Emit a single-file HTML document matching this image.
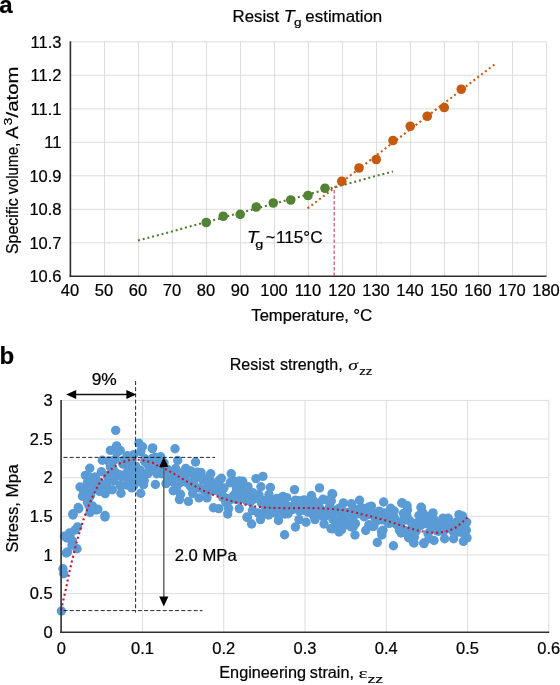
<!DOCTYPE html>
<html lang="en"><head><meta charset="utf-8"><title>Resist Tg estimation and resist strength</title>
<style>html,body{margin:0;padding:0;background:#fff}body{width:560px;height:685px;overflow:hidden}svg{display:block}text{font-family:"Liberation Sans",Arial,Helvetica,sans-serif;font-size:16.5px;fill:#000;stroke:#000;stroke-width:.22px}.g{stroke:#d4d4d4;stroke-width:.8;fill:none}.ax{stroke:#2e2e2e;stroke-width:1.6;fill:none}.lbl{font-weight:bold;font-size:24px;fill:#000}.sub{font-size:11px}.dash{stroke:#111;stroke-width:.9;stroke-dasharray:4 2.2;fill:none}.ser{font-family:"Liberation Serif","DejaVu Serif",serif;stroke-width:.1px}</style></head><body>
<svg width="560" height="685" viewBox="0 0 560 685">
<rect width="560" height="685" fill="#fff"/>
<g id="chart-a">
<line class="g" x1="104.50" y1="41.8" x2="104.50" y2="276.3"/>
<line class="g" x1="138.50" y1="41.8" x2="138.50" y2="276.3"/>
<line class="g" x1="172.50" y1="41.8" x2="172.50" y2="276.3"/>
<line class="g" x1="206.50" y1="41.8" x2="206.50" y2="276.3"/>
<line class="g" x1="240.50" y1="41.8" x2="240.50" y2="276.3"/>
<line class="g" x1="274.50" y1="41.8" x2="274.50" y2="276.3"/>
<line class="g" x1="308.50" y1="41.8" x2="308.50" y2="276.3"/>
<line class="g" x1="342.50" y1="41.8" x2="342.50" y2="276.3"/>
<line class="g" x1="376.50" y1="41.8" x2="376.50" y2="276.3"/>
<line class="g" x1="410.50" y1="41.8" x2="410.50" y2="276.3"/>
<line class="g" x1="444.50" y1="41.8" x2="444.50" y2="276.3"/>
<line class="g" x1="478.50" y1="41.8" x2="478.50" y2="276.3"/>
<line class="g" x1="512.50" y1="41.8" x2="512.50" y2="276.3"/>
<line class="g" x1="546.50" y1="41.8" x2="546.50" y2="276.3"/>
<line class="g" x1="70.0" y1="242.80" x2="546.0" y2="242.80"/>
<line class="g" x1="70.0" y1="209.30" x2="546.0" y2="209.30"/>
<line class="g" x1="70.0" y1="175.80" x2="546.0" y2="175.80"/>
<line class="g" x1="70.0" y1="142.30" x2="546.0" y2="142.30"/>
<line class="g" x1="70.0" y1="108.80" x2="546.0" y2="108.80"/>
<line class="g" x1="70.0" y1="75.30" x2="546.0" y2="75.30"/>
<line class="g" x1="70.0" y1="41.80" x2="546.0" y2="41.80"/>
<line x1="138" y1="240.6" x2="393" y2="171.4" stroke="#4f7d30" stroke-width="2.1" stroke-dasharray="2 2.87"/>
<line x1="307.6" y1="208.4" x2="494.6" y2="64.4" stroke="#c55a11" stroke-width="2.1" stroke-dasharray="2 2.87"/>
<line x1="334.2" y1="190" x2="334.2" y2="275.5" stroke="#c8506c" stroke-width="1.2" stroke-dasharray="3.5 2"/>
<line class="ax" x1="70.4" y1="41.3" x2="70.4" y2="277.1"/>
<line class="ax" x1="69.6" y1="276.3" x2="546.5" y2="276.3"/>
<circle cx="206.25" cy="222.5" r="4.8" fill="#548235"/>
<circle cx="223.25" cy="216.25" r="4.8" fill="#548235"/>
<circle cx="240.2" cy="214.4" r="4.8" fill="#548235"/>
<circle cx="256.25" cy="207" r="4.8" fill="#548235"/>
<circle cx="273.25" cy="203" r="4.8" fill="#548235"/>
<circle cx="290.75" cy="200" r="4.8" fill="#548235"/>
<circle cx="308" cy="195.5" r="4.8" fill="#548235"/>
<circle cx="325" cy="188.25" r="4.8" fill="#548235"/>
<circle cx="341.75" cy="181.25" r="4.8" fill="#c55a11"/>
<circle cx="359" cy="168" r="4.8" fill="#c55a11"/>
<circle cx="376.25" cy="159.5" r="4.8" fill="#c55a11"/>
<circle cx="393" cy="140.5" r="4.8" fill="#c55a11"/>
<circle cx="410.25" cy="126.25" r="4.8" fill="#c55a11"/>
<circle cx="427.25" cy="116.25" r="4.8" fill="#c55a11"/>
<circle cx="444.25" cy="107.5" r="4.8" fill="#c55a11"/>
<circle cx="461.25" cy="89.25" r="4.8" fill="#c55a11"/>
<text x="61.5" y="282.00" text-anchor="end">10.6</text>
<text x="61.5" y="248.50" text-anchor="end">10.7</text>
<text x="61.5" y="215.00" text-anchor="end">10.8</text>
<text x="61.5" y="181.50" text-anchor="end">10.9</text>
<text x="61.5" y="148.00" text-anchor="end">11</text>
<text x="61.5" y="114.50" text-anchor="end">11.1</text>
<text x="61.5" y="81.00" text-anchor="end">11.2</text>
<text x="61.5" y="47.50" text-anchor="end">11.3</text>
<text x="70.00" y="296" text-anchor="middle">40</text>
<text x="104.00" y="296" text-anchor="middle">50</text>
<text x="138.00" y="296" text-anchor="middle">60</text>
<text x="172.00" y="296" text-anchor="middle">70</text>
<text x="206.00" y="296" text-anchor="middle">80</text>
<text x="240.00" y="296" text-anchor="middle">90</text>
<text x="274.00" y="296" text-anchor="middle">100</text>
<text x="308.00" y="296" text-anchor="middle">110</text>
<text x="342.00" y="296" text-anchor="middle">120</text>
<text x="376.00" y="296" text-anchor="middle">130</text>
<text x="410.00" y="296" text-anchor="middle">140</text>
<text x="444.00" y="296" text-anchor="middle">150</text>
<text x="478.00" y="296" text-anchor="middle">160</text>
<text x="512.00" y="296" text-anchor="middle">170</text>
<text x="546.00" y="296" text-anchor="middle">180</text>
<text x="251.38" y="320.60" textLength="97.60" lengthAdjust="spacingAndGlyphs">Temperature,</text>
<text x="353.18" y="320.60" textLength="19.05" lengthAdjust="spacingAndGlyphs">°C</text>
<g transform="translate(17.6,253.3) rotate(-90)">
<text x="-0.72" y="0.00" textLength="55.70" lengthAdjust="spacingAndGlyphs">Specific</text>
<text x="58.96" y="0.00" textLength="51.59" lengthAdjust="spacingAndGlyphs">volume,</text>
<text x="114.45" y="0.00" textLength="12.28" lengthAdjust="spacingAndGlyphs">A</text>
<text x="127.99" y="-5.80" textLength="7.49" lengthAdjust="spacingAndGlyphs" style="font-size:10px">3</text>
<text x="135.80" y="0.00" textLength="50.95" lengthAdjust="spacingAndGlyphs">/atom</text>
</g>
<text x="232.62" y="21.60" textLength="46.52" lengthAdjust="spacingAndGlyphs">Resist</text>
<text x="283.89" y="21.60" textLength="10.95" lengthAdjust="spacingAndGlyphs" font-style="italic">T</text>
<text x="294.02" y="26.20" textLength="7.54" lengthAdjust="spacingAndGlyphs" style="font-size:11px">g</text>
<text x="305.38" y="21.60" textLength="76.88" lengthAdjust="spacingAndGlyphs">estimation</text>
<text x="247.12" y="242.70" textLength="11.37" lengthAdjust="spacingAndGlyphs" font-style="italic">T</text>
<text x="255.39" y="247.90" textLength="8.03" lengthAdjust="spacingAndGlyphs" style="font-size:11.5px">g</text>
<text x="265.76" y="242.70" textLength="9.56" lengthAdjust="spacingAndGlyphs">~</text>
<text x="276.01" y="242.70" textLength="46.61" lengthAdjust="spacingAndGlyphs">115°C</text>
<text class="lbl" x="-0.8" y="13.1">a</text>
</g>
<g id="chart-b">
<line class="g" x1="142.50" y1="400.4" x2="142.50" y2="632.3"/>
<line class="g" x1="223.75" y1="400.4" x2="223.75" y2="632.3"/>
<line class="g" x1="305.00" y1="400.4" x2="305.00" y2="632.3"/>
<line class="g" x1="386.25" y1="400.4" x2="386.25" y2="632.3"/>
<line class="g" x1="467.50" y1="400.4" x2="467.50" y2="632.3"/>
<line class="g" x1="548.75" y1="400.4" x2="548.75" y2="632.3"/>
<line class="g" x1="61.25" y1="593.65" x2="548.75" y2="593.65"/>
<line class="g" x1="61.25" y1="555.00" x2="548.75" y2="555.00"/>
<line class="g" x1="61.25" y1="516.35" x2="548.75" y2="516.35"/>
<line class="g" x1="61.25" y1="477.70" x2="548.75" y2="477.70"/>
<line class="g" x1="61.25" y1="439.05" x2="548.75" y2="439.05"/>
<line class="g" x1="61.25" y1="400.40" x2="548.75" y2="400.40"/>
<g fill="#5b9bd5">
<circle cx="61.4" cy="611" r="4.7"/>
<circle cx="63" cy="568.75" r="4.7"/>
<circle cx="63.75" cy="573.75" r="4.7"/>
<circle cx="64.5" cy="536.25" r="4.7"/>
<circle cx="66.25" cy="553" r="4.7"/>
<circle cx="67" cy="538" r="4.7"/>
<circle cx="67.5" cy="552" r="4.7"/>
<circle cx="69.5" cy="533" r="4.7"/>
<circle cx="70" cy="535" r="4.7"/>
<circle cx="72" cy="545" r="4.7"/>
<circle cx="72.5" cy="541" r="4.7"/>
<circle cx="72.9" cy="513.75" r="4.7"/>
<circle cx="73" cy="515" r="4.7"/>
<circle cx="75" cy="530" r="4.7"/>
<circle cx="77" cy="548.75" r="4.7"/>
<circle cx="77.5" cy="527" r="4.7"/>
<circle cx="78.2" cy="507.5" r="4.7"/>
<circle cx="78.75" cy="508.75" r="4.7"/>
<circle cx="80" cy="487" r="4.7"/>
<circle cx="82.4" cy="496.2" r="4.7"/>
<circle cx="83.2" cy="488.4" r="4.7"/>
<circle cx="83.6" cy="491.4" r="4.7"/>
<circle cx="84.8" cy="490.0" r="4.7"/>
<circle cx="85.4" cy="475.4" r="4.7"/>
<circle cx="85.4" cy="489.1" r="4.7"/>
<circle cx="87.3" cy="482.9" r="4.7"/>
<circle cx="87.5" cy="502.5" r="4.7"/>
<circle cx="88" cy="484.3" r="4.7"/>
<circle cx="88.2" cy="488.2" r="4.7"/>
<circle cx="89" cy="505.7" r="4.7"/>
<circle cx="89.7" cy="497.0" r="4.7"/>
<circle cx="89.8" cy="468.2" r="4.7"/>
<circle cx="90.0" cy="477.1" r="4.7"/>
<circle cx="90" cy="512.5" r="4.7"/>
<circle cx="90.7" cy="495" r="4.7"/>
<circle cx="91.2" cy="483.9" r="4.7"/>
<circle cx="92.5" cy="506" r="4.7"/>
<circle cx="92.6" cy="488.4" r="4.7"/>
<circle cx="93.1" cy="478.1" r="4.7"/>
<circle cx="94.9" cy="480.7" r="4.7"/>
<circle cx="95.2" cy="477" r="4.7"/>
<circle cx="95.9" cy="479.9" r="4.7"/>
<circle cx="96.25" cy="510" r="4.7"/>
<circle cx="97.2" cy="483.1" r="4.7"/>
<circle cx="97.9" cy="509.3" r="4.7"/>
<circle cx="98.0" cy="486.4" r="4.7"/>
<circle cx="99.6" cy="482.3" r="4.7"/>
<circle cx="99.6" cy="491.4" r="4.7"/>
<circle cx="100.5" cy="484.4" r="4.7"/>
<circle cx="100.8" cy="490.6" r="4.7"/>
<circle cx="101.4" cy="471.8" r="4.7"/>
<circle cx="102.3" cy="460.2" r="4.7"/>
<circle cx="102.8" cy="490.4" r="4.7"/>
<circle cx="103.6" cy="488.2" r="4.7"/>
<circle cx="105" cy="515.5" r="4.7"/>
<circle cx="105" cy="517" r="4.7"/>
<circle cx="105.1" cy="487.8" r="4.7"/>
<circle cx="105.2" cy="493.6" r="4.7"/>
<circle cx="106.8" cy="484.3" r="4.7"/>
<circle cx="107.1" cy="475.4" r="4.7"/>
<circle cx="108.1" cy="477.7" r="4.7"/>
<circle cx="108.6" cy="460.9" r="4.7"/>
<circle cx="110.4" cy="450.4" r="4.7"/>
<circle cx="110.4" cy="467.0" r="4.7"/>
<circle cx="111.1" cy="467.1" r="4.7"/>
<circle cx="112" cy="463" r="4.7"/>
<circle cx="112.3" cy="489.8" r="4.7"/>
<circle cx="113.1" cy="469.2" r="4.7"/>
<circle cx="114" cy="480.7" r="4.7"/>
<circle cx="114.9" cy="459.6" r="4.7"/>
<circle cx="115.3" cy="472.5" r="4.7"/>
<circle cx="115.7" cy="430.4" r="4.7"/>
<circle cx="116.6" cy="445.9" r="4.7"/>
<circle cx="116.8" cy="452.8" r="4.7"/>
<circle cx="117.7" cy="475.0" r="4.7"/>
<circle cx="119.4" cy="474.7" r="4.7"/>
<circle cx="120.2" cy="450.4" r="4.7"/>
<circle cx="120.2" cy="485.8" r="4.7"/>
<circle cx="121" cy="486" r="4.7"/>
<circle cx="121" cy="493.2" r="4.7"/>
<circle cx="121.4" cy="475.5" r="4.7"/>
<circle cx="122.1" cy="477.0" r="4.7"/>
<circle cx="122.8" cy="464.0" r="4.7"/>
<circle cx="124.0" cy="460.1" r="4.7"/>
<circle cx="125.0" cy="462.3" r="4.7"/>
<circle cx="126.4" cy="473.6" r="4.7"/>
<circle cx="126.5" cy="485.0" r="4.7"/>
<circle cx="127.3" cy="455.7" r="4.7"/>
<circle cx="127.8" cy="467.4" r="4.7"/>
<circle cx="128.6" cy="463.1" r="4.7"/>
<circle cx="130" cy="480.7" r="4.7"/>
<circle cx="130.3" cy="472.5" r="4.7"/>
<circle cx="130.6" cy="468.3" r="4.7"/>
<circle cx="131.8" cy="487.9" r="4.7"/>
<circle cx="131.9" cy="459.5" r="4.7"/>
<circle cx="133.6" cy="454.8" r="4.7"/>
<circle cx="133.7" cy="466.5" r="4.7"/>
<circle cx="133.8" cy="485.8" r="4.7"/>
<circle cx="135.6" cy="466.1" r="4.7"/>
<circle cx="136.2" cy="476.1" r="4.7"/>
<circle cx="137.4" cy="481.5" r="4.7"/>
<circle cx="138.9" cy="443.2" r="4.7"/>
<circle cx="139.3" cy="481.3" r="4.7"/>
<circle cx="140.1" cy="470.1" r="4.7"/>
<circle cx="140.7" cy="493.2" r="4.7"/>
<circle cx="140.8" cy="451.6" r="4.7"/>
<circle cx="141.8" cy="476.6" r="4.7"/>
<circle cx="142.5" cy="446.8" r="4.7"/>
<circle cx="143.6" cy="484.6" r="4.7"/>
<circle cx="144.3" cy="480.7" r="4.7"/>
<circle cx="144.8" cy="461.8" r="4.7"/>
<circle cx="145.0" cy="458.8" r="4.7"/>
<circle cx="146.6" cy="473.8" r="4.7"/>
<circle cx="147.7" cy="464.4" r="4.7"/>
<circle cx="147.9" cy="473.6" r="4.7"/>
<circle cx="149.1" cy="471.6" r="4.7"/>
<circle cx="149.4" cy="470.1" r="4.7"/>
<circle cx="151.4" cy="465.1" r="4.7"/>
<circle cx="152.3" cy="448.6" r="4.7"/>
<circle cx="152.4" cy="458.4" r="4.7"/>
<circle cx="152.7" cy="447.9" r="4.7"/>
<circle cx="152.7" cy="467.2" r="4.7"/>
<circle cx="154.5" cy="468.1" r="4.7"/>
<circle cx="155.3" cy="457.3" r="4.7"/>
<circle cx="155.4" cy="484.5" r="4.7"/>
<circle cx="156.9" cy="473.8" r="4.7"/>
<circle cx="157.4" cy="469.5" r="4.7"/>
<circle cx="158.3" cy="464.4" r="4.7"/>
<circle cx="159.7" cy="468.7" r="4.7"/>
<circle cx="160.3" cy="468.8" r="4.7"/>
<circle cx="160.7" cy="456.8" r="4.7"/>
<circle cx="161.9" cy="473.8" r="4.7"/>
<circle cx="163.0" cy="467.1" r="4.7"/>
<circle cx="164.0" cy="462.8" r="4.7"/>
<circle cx="165.5" cy="470.8" r="4.7"/>
<circle cx="166" cy="483.6" r="4.7"/>
<circle cx="166.5" cy="470.4" r="4.7"/>
<circle cx="167.4" cy="469.3" r="4.7"/>
<circle cx="168.2" cy="477.6" r="4.7"/>
<circle cx="169.6" cy="480.0" r="4.7"/>
<circle cx="170.6" cy="474.4" r="4.7"/>
<circle cx="172.0" cy="475.7" r="4.7"/>
<circle cx="172.8" cy="481.8" r="4.7"/>
<circle cx="173.2" cy="490.7" r="4.7"/>
<circle cx="174.5" cy="478.0" r="4.7"/>
<circle cx="175" cy="448.75" r="4.7"/>
<circle cx="175.6" cy="468.5" r="4.7"/>
<circle cx="176.1" cy="471.4" r="4.7"/>
<circle cx="176.8" cy="486.8" r="4.7"/>
<circle cx="177.7" cy="460.4" r="4.7"/>
<circle cx="178.0" cy="476.5" r="4.7"/>
<circle cx="179.5" cy="499.6" r="4.7"/>
<circle cx="179.9" cy="482.7" r="4.7"/>
<circle cx="180.5" cy="494.3" r="4.7"/>
<circle cx="182.0" cy="478.8" r="4.7"/>
<circle cx="182.8" cy="472.2" r="4.7"/>
<circle cx="183.7" cy="474.9" r="4.7"/>
<circle cx="184.9" cy="476.4" r="4.7"/>
<circle cx="185.7" cy="468.4" r="4.7"/>
<circle cx="186.2" cy="482.2" r="4.7"/>
<circle cx="187.5" cy="472.5" r="4.7"/>
<circle cx="187.8" cy="473.0" r="4.7"/>
<circle cx="188.4" cy="501.4" r="4.7"/>
<circle cx="189.3" cy="482.9" r="4.7"/>
<circle cx="190.1" cy="485.5" r="4.7"/>
<circle cx="191" cy="471" r="4.7"/>
<circle cx="191.1" cy="486.9" r="4.7"/>
<circle cx="192.6" cy="493.5" r="4.7"/>
<circle cx="193.9" cy="480.6" r="4.7"/>
<circle cx="194.4" cy="478.6" r="4.7"/>
<circle cx="195.5" cy="462" r="4.7"/>
<circle cx="196.1" cy="473.8" r="4.7"/>
<circle cx="197.1" cy="472.2" r="4.7"/>
<circle cx="197.8" cy="474.8" r="4.7"/>
<circle cx="199" cy="497.9" r="4.7"/>
<circle cx="199.1" cy="488.0" r="4.7"/>
<circle cx="200.2" cy="477.3" r="4.7"/>
<circle cx="201.0" cy="472.4" r="4.7"/>
<circle cx="202.9" cy="480.1" r="4.7"/>
<circle cx="204.2" cy="490.0" r="4.7"/>
<circle cx="204.7" cy="490.4" r="4.7"/>
<circle cx="205.8" cy="490.5" r="4.7"/>
<circle cx="206.8" cy="487.8" r="4.7"/>
<circle cx="207" cy="497.9" r="4.7"/>
<circle cx="208.0" cy="477.9" r="4.7"/>
<circle cx="208.8" cy="491.4" r="4.7"/>
<circle cx="210.0" cy="480.0" r="4.7"/>
<circle cx="210.7" cy="473.75" r="4.7"/>
<circle cx="211.8" cy="489.3" r="4.7"/>
<circle cx="212.2" cy="489.3" r="4.7"/>
<circle cx="213.2" cy="485.2" r="4.7"/>
<circle cx="213.4" cy="507.7" r="4.7"/>
<circle cx="215.2" cy="488.4" r="4.7"/>
<circle cx="216.3" cy="487.6" r="4.7"/>
<circle cx="216.4" cy="490.4" r="4.7"/>
<circle cx="218.0" cy="491.3" r="4.7"/>
<circle cx="218.6" cy="481.2" r="4.7"/>
<circle cx="218.75" cy="508.6" r="4.7"/>
<circle cx="220.1" cy="479.6" r="4.7"/>
<circle cx="221.1" cy="494.0" r="4.7"/>
<circle cx="221.4" cy="478.2" r="4.7"/>
<circle cx="222.5" cy="497.1" r="4.7"/>
<circle cx="223" cy="496" r="4.7"/>
<circle cx="224.0" cy="487.9" r="4.7"/>
<circle cx="225.2" cy="499.2" r="4.7"/>
<circle cx="225.9" cy="502.7" r="4.7"/>
<circle cx="227.3" cy="501.5" r="4.7"/>
<circle cx="227.5" cy="498.6" r="4.7"/>
<circle cx="227.7" cy="514" r="4.7"/>
<circle cx="228.6" cy="508.6" r="4.7"/>
<circle cx="229.4" cy="500.4" r="4.7"/>
<circle cx="230.3" cy="482.7" r="4.7"/>
<circle cx="230.8" cy="482.0" r="4.7"/>
<circle cx="231.25" cy="473.75" r="4.7"/>
<circle cx="232.7" cy="496.8" r="4.7"/>
<circle cx="233.6" cy="480.6" r="4.7"/>
<circle cx="234.9" cy="494.1" r="4.7"/>
<circle cx="235.8" cy="499.4" r="4.7"/>
<circle cx="236.5" cy="488.4" r="4.7"/>
<circle cx="238.1" cy="499.2" r="4.7"/>
<circle cx="239.3" cy="481" r="4.7"/>
<circle cx="239.3" cy="508.6" r="4.7"/>
<circle cx="239.5" cy="492.0" r="4.7"/>
<circle cx="240.0" cy="498.9" r="4.7"/>
<circle cx="241.3" cy="488.2" r="4.7"/>
<circle cx="242.0" cy="494.9" r="4.7"/>
<circle cx="242.7" cy="481.25" r="4.7"/>
<circle cx="242.8" cy="491.8" r="4.7"/>
<circle cx="244.7" cy="497.2" r="4.7"/>
<circle cx="245.6" cy="497.1" r="4.7"/>
<circle cx="246.2" cy="500.4" r="4.7"/>
<circle cx="247" cy="517" r="4.7"/>
<circle cx="247.3" cy="517.5" r="4.7"/>
<circle cx="248" cy="486.6" r="4.7"/>
<circle cx="248.2" cy="498.0" r="4.7"/>
<circle cx="249.2" cy="495.5" r="4.7"/>
<circle cx="249.6" cy="496.7" r="4.7"/>
<circle cx="250.7" cy="501.7" r="4.7"/>
<circle cx="251.6" cy="524" r="4.7"/>
<circle cx="252.5" cy="510.6" r="4.7"/>
<circle cx="253.0" cy="492.8" r="4.7"/>
<circle cx="253.8" cy="499.0" r="4.7"/>
<circle cx="255.3" cy="495.2" r="4.7"/>
<circle cx="256" cy="478.6" r="4.7"/>
<circle cx="256.4" cy="496.1" r="4.7"/>
<circle cx="258.1" cy="513.0" r="4.7"/>
<circle cx="259.0" cy="494.8" r="4.7"/>
<circle cx="259.8" cy="499.1" r="4.7"/>
<circle cx="260.5" cy="519.6" r="4.7"/>
<circle cx="260.9" cy="486.8" r="4.7"/>
<circle cx="261.6" cy="503.3" r="4.7"/>
<circle cx="262.9" cy="476.4" r="4.7"/>
<circle cx="262.9" cy="500.5" r="4.7"/>
<circle cx="263.9" cy="513.3" r="4.7"/>
<circle cx="265.8" cy="508.8" r="4.7"/>
<circle cx="267.0" cy="500.1" r="4.7"/>
<circle cx="267.8" cy="509.0" r="4.7"/>
<circle cx="268.6" cy="515" r="4.7"/>
<circle cx="268.9" cy="494.6" r="4.7"/>
<circle cx="270.3" cy="504.2" r="4.7"/>
<circle cx="270.4" cy="487.5" r="4.7"/>
<circle cx="270.7" cy="509.4" r="4.7"/>
<circle cx="272.5" cy="507.9" r="4.7"/>
<circle cx="272.9" cy="500.7" r="4.7"/>
<circle cx="273.8" cy="512.7" r="4.7"/>
<circle cx="275.3" cy="512.7" r="4.7"/>
<circle cx="276.9" cy="498.5" r="4.7"/>
<circle cx="277.2" cy="502.3" r="4.7"/>
<circle cx="278.2" cy="500.8" r="4.7"/>
<circle cx="278.4" cy="520.5" r="4.7"/>
<circle cx="279.8" cy="506.9" r="4.7"/>
<circle cx="280.7" cy="502.9" r="4.7"/>
<circle cx="281.4" cy="514.1" r="4.7"/>
<circle cx="282.6" cy="510.1" r="4.7"/>
<circle cx="282.9" cy="496.4" r="4.7"/>
<circle cx="283.8" cy="501.2" r="4.7"/>
<circle cx="284.6" cy="534.8" r="4.7"/>
<circle cx="285.1" cy="514.0" r="4.7"/>
<circle cx="286.7" cy="497.6" r="4.7"/>
<circle cx="287.6" cy="506.6" r="4.7"/>
<circle cx="288.0" cy="513.7" r="4.7"/>
<circle cx="290.0" cy="508.2" r="4.7"/>
<circle cx="290.3" cy="506.7" r="4.7"/>
<circle cx="292.0" cy="509.7" r="4.7"/>
<circle cx="293.2" cy="507.4" r="4.7"/>
<circle cx="293.5" cy="507.9" r="4.7"/>
<circle cx="294.5" cy="489.6" r="4.7"/>
<circle cx="295.3" cy="500.2" r="4.7"/>
<circle cx="295.4" cy="527" r="4.7"/>
<circle cx="296.0" cy="505.0" r="4.7"/>
<circle cx="296.9" cy="506.4" r="4.7"/>
<circle cx="298.1" cy="500.6" r="4.7"/>
<circle cx="299" cy="519.6" r="4.7"/>
<circle cx="299.5" cy="511.3" r="4.7"/>
<circle cx="300.6" cy="502.1" r="4.7"/>
<circle cx="302.2" cy="500.7" r="4.7"/>
<circle cx="302.8" cy="503.9" r="4.7"/>
<circle cx="304.1" cy="500.0" r="4.7"/>
<circle cx="304.9" cy="510.4" r="4.7"/>
<circle cx="305.8" cy="509.3" r="4.7"/>
<circle cx="306" cy="522.3" r="4.7"/>
<circle cx="306.9" cy="508.3" r="4.7"/>
<circle cx="308.0" cy="512.1" r="4.7"/>
<circle cx="309.2" cy="504.0" r="4.7"/>
<circle cx="310.2" cy="510.4" r="4.7"/>
<circle cx="311.4" cy="495.5" r="4.7"/>
<circle cx="312.1" cy="505.1" r="4.7"/>
<circle cx="312.4" cy="499.2" r="4.7"/>
<circle cx="313.4" cy="515.3" r="4.7"/>
<circle cx="315" cy="519.6" r="4.7"/>
<circle cx="315.4" cy="516.8" r="4.7"/>
<circle cx="315.9" cy="516.3" r="4.7"/>
<circle cx="317.4" cy="510.8" r="4.7"/>
<circle cx="318.1" cy="503.9" r="4.7"/>
<circle cx="319.0" cy="502.9" r="4.7"/>
<circle cx="319.5" cy="487.9" r="4.7"/>
<circle cx="320.3" cy="508.7" r="4.7"/>
<circle cx="321.2" cy="514.5" r="4.7"/>
<circle cx="323.0" cy="499.2" r="4.7"/>
<circle cx="323.7" cy="516.9" r="4.7"/>
<circle cx="324" cy="524" r="4.7"/>
<circle cx="324.5" cy="516.8" r="4.7"/>
<circle cx="325.4" cy="515.7" r="4.7"/>
<circle cx="327.4" cy="500.3" r="4.7"/>
<circle cx="327.7" cy="510.4" r="4.7"/>
<circle cx="329.7" cy="506.4" r="4.7"/>
<circle cx="330.9" cy="511.8" r="4.7"/>
<circle cx="331" cy="528.6" r="4.7"/>
<circle cx="331.3" cy="500.9" r="4.7"/>
<circle cx="332" cy="493.75" r="4.7"/>
<circle cx="332.7" cy="494" r="4.7"/>
<circle cx="332.7" cy="528.75" r="4.7"/>
<circle cx="332.9" cy="519.4" r="4.7"/>
<circle cx="333.2" cy="512.5" r="4.7"/>
<circle cx="335.3" cy="510.1" r="4.7"/>
<circle cx="335.8" cy="523.7" r="4.7"/>
<circle cx="336.6" cy="520.9" r="4.7"/>
<circle cx="338.4" cy="511.9" r="4.7"/>
<circle cx="339.0" cy="508.4" r="4.7"/>
<circle cx="339" cy="532" r="4.7"/>
<circle cx="340.6" cy="507.8" r="4.7"/>
<circle cx="340.9" cy="519.8" r="4.7"/>
<circle cx="341.6" cy="529.6" r="4.7"/>
<circle cx="342.9" cy="511.3" r="4.7"/>
<circle cx="343.1" cy="521.7" r="4.7"/>
<circle cx="343.4" cy="502.9" r="4.7"/>
<circle cx="344.6" cy="516.0" r="4.7"/>
<circle cx="345.9" cy="523.7" r="4.7"/>
<circle cx="347.1" cy="524.7" r="4.7"/>
<circle cx="347.8" cy="518.8" r="4.7"/>
<circle cx="348.8" cy="512.2" r="4.7"/>
<circle cx="349.8" cy="516.6" r="4.7"/>
<circle cx="351.2" cy="514.8" r="4.7"/>
<circle cx="351.4" cy="503.75" r="4.7"/>
<circle cx="351.4" cy="527" r="4.7"/>
<circle cx="352.7" cy="518.7" r="4.7"/>
<circle cx="353.5" cy="526.4" r="4.7"/>
<circle cx="354.1" cy="508.8" r="4.7"/>
<circle cx="355" cy="535" r="4.7"/>
<circle cx="355.4" cy="523.6" r="4.7"/>
<circle cx="356.7" cy="513.9" r="4.7"/>
<circle cx="358.2" cy="513.4" r="4.7"/>
<circle cx="359.1" cy="513.6" r="4.7"/>
<circle cx="359.5" cy="500.2" r="4.7"/>
<circle cx="359.7" cy="510.8" r="4.7"/>
<circle cx="361.3" cy="507.5" r="4.7"/>
<circle cx="362.1" cy="510.6" r="4.7"/>
<circle cx="363.1" cy="511.8" r="4.7"/>
<circle cx="364.1" cy="516.8" r="4.7"/>
<circle cx="365.7" cy="530.5" r="4.7"/>
<circle cx="365.8" cy="508.8" r="4.7"/>
<circle cx="366.9" cy="511.4" r="4.7"/>
<circle cx="367.6" cy="514.9" r="4.7"/>
<circle cx="368.4" cy="507.3" r="4.7"/>
<circle cx="368.8" cy="524.8" r="4.7"/>
<circle cx="370.6" cy="510.5" r="4.7"/>
<circle cx="371.4" cy="506.1" r="4.7"/>
<circle cx="372.7" cy="526.5" r="4.7"/>
<circle cx="373.2" cy="514.0" r="4.7"/>
<circle cx="373.9" cy="526.2" r="4.7"/>
<circle cx="375.1" cy="517.9" r="4.7"/>
<circle cx="376.2" cy="520.7" r="4.7"/>
<circle cx="376.4" cy="513.6" r="4.7"/>
<circle cx="377.3" cy="542.5" r="4.7"/>
<circle cx="378.2" cy="520.2" r="4.7"/>
<circle cx="379.2" cy="511.1" r="4.7"/>
<circle cx="380.4" cy="514.2" r="4.7"/>
<circle cx="381.5" cy="531.8" r="4.7"/>
<circle cx="381.8" cy="535" r="4.7"/>
<circle cx="382.3" cy="519.9" r="4.7"/>
<circle cx="382.9" cy="530.3" r="4.7"/>
<circle cx="383.6" cy="502" r="4.7"/>
<circle cx="384.7" cy="513.0" r="4.7"/>
<circle cx="385.3" cy="514.0" r="4.7"/>
<circle cx="386.3" cy="520.0" r="4.7"/>
<circle cx="387.7" cy="519.2" r="4.7"/>
<circle cx="388.3" cy="523.3" r="4.7"/>
<circle cx="389.6" cy="523.2" r="4.7"/>
<circle cx="390.7" cy="508.2" r="4.7"/>
<circle cx="390.9" cy="519.4" r="4.7"/>
<circle cx="391.5" cy="517.2" r="4.7"/>
<circle cx="393.4" cy="516.1" r="4.7"/>
<circle cx="393.4" cy="545.7" r="4.7"/>
<circle cx="394.2" cy="511.0" r="4.7"/>
<circle cx="395.3" cy="519.4" r="4.7"/>
<circle cx="396.5" cy="524.5" r="4.7"/>
<circle cx="397.1" cy="524.7" r="4.7"/>
<circle cx="398.2" cy="525.1" r="4.7"/>
<circle cx="399.4" cy="530.2" r="4.7"/>
<circle cx="401.2" cy="533.0" r="4.7"/>
<circle cx="401.8" cy="503" r="4.7"/>
<circle cx="402.0" cy="521.7" r="4.7"/>
<circle cx="402.3" cy="502.9" r="4.7"/>
<circle cx="403.4" cy="513.5" r="4.7"/>
<circle cx="404.5" cy="530.5" r="4.7"/>
<circle cx="405.0" cy="516.5" r="4.7"/>
<circle cx="406.8" cy="505.5" r="4.7"/>
<circle cx="406.8" cy="515.3" r="4.7"/>
<circle cx="407" cy="505.7" r="4.7"/>
<circle cx="407.5" cy="510.0" r="4.7"/>
<circle cx="408.2" cy="531.1" r="4.7"/>
<circle cx="408.6" cy="537.7" r="4.7"/>
<circle cx="409" cy="537" r="4.7"/>
<circle cx="409.9" cy="521.0" r="4.7"/>
<circle cx="410.4" cy="521.8" r="4.7"/>
<circle cx="412.3" cy="528.9" r="4.7"/>
<circle cx="412.5" cy="523.4" r="4.7"/>
<circle cx="413.4" cy="542.3" r="4.7"/>
<circle cx="414" cy="543" r="4.7"/>
<circle cx="414.4" cy="537.3" r="4.7"/>
<circle cx="415.3" cy="531.3" r="4.7"/>
<circle cx="416.2" cy="530.9" r="4.7"/>
<circle cx="416.9" cy="523.0" r="4.7"/>
<circle cx="419.0" cy="515.5" r="4.7"/>
<circle cx="419.0" cy="524.5" r="4.7"/>
<circle cx="420.8" cy="525.4" r="4.7"/>
<circle cx="421" cy="507.3" r="4.7"/>
<circle cx="421.4" cy="507.5" r="4.7"/>
<circle cx="422.2" cy="518.5" r="4.7"/>
<circle cx="423.1" cy="513.1" r="4.7"/>
<circle cx="423.75" cy="543" r="4.7"/>
<circle cx="423.8" cy="522.4" r="4.7"/>
<circle cx="424" cy="543.6" r="4.7"/>
<circle cx="424.8" cy="523.6" r="4.7"/>
<circle cx="426.3" cy="517.8" r="4.7"/>
<circle cx="427.8" cy="518.7" r="4.7"/>
<circle cx="428.0" cy="533.5" r="4.7"/>
<circle cx="429" cy="538.6" r="4.7"/>
<circle cx="429.4" cy="516.4" r="4.7"/>
<circle cx="430.8" cy="526.6" r="4.7"/>
<circle cx="431.6" cy="526.6" r="4.7"/>
<circle cx="433" cy="512.9" r="4.7"/>
<circle cx="433.2" cy="527.5" r="4.7"/>
<circle cx="433.8" cy="519.4" r="4.7"/>
<circle cx="434" cy="540.5" r="4.7"/>
<circle cx="435.3" cy="528.0" r="4.7"/>
<circle cx="436.6" cy="522.8" r="4.7"/>
<circle cx="437.3" cy="530.9" r="4.7"/>
<circle cx="438.0" cy="524.8" r="4.7"/>
<circle cx="438.9" cy="531.2" r="4.7"/>
<circle cx="440.0" cy="529.3" r="4.7"/>
<circle cx="441.9" cy="525.1" r="4.7"/>
<circle cx="442.3" cy="523.1" r="4.7"/>
<circle cx="442.9" cy="518.2" r="4.7"/>
<circle cx="443.6" cy="531.3" r="4.7"/>
<circle cx="444.6" cy="538.75" r="4.7"/>
<circle cx="445.2" cy="528.6" r="4.7"/>
<circle cx="446.0" cy="526.8" r="4.7"/>
<circle cx="447.3" cy="528.4" r="4.7"/>
<circle cx="447.7" cy="524.8" r="4.7"/>
<circle cx="448.2" cy="518.2" r="4.7"/>
<circle cx="449.6" cy="528.1" r="4.7"/>
<circle cx="450.8" cy="524.4" r="4.7"/>
<circle cx="452.0" cy="529.6" r="4.7"/>
<circle cx="453.2" cy="531.5" r="4.7"/>
<circle cx="453.6" cy="538.75" r="4.7"/>
<circle cx="453.9" cy="528.2" r="4.7"/>
<circle cx="454.9" cy="523.5" r="4.7"/>
<circle cx="456.1" cy="532.8" r="4.7"/>
<circle cx="456.6" cy="521.9" r="4.7"/>
<circle cx="458.6" cy="522.1" r="4.7"/>
<circle cx="458.7" cy="530.1" r="4.7"/>
<circle cx="459" cy="514.6" r="4.7"/>
<circle cx="460.5" cy="526.1" r="4.7"/>
<circle cx="461.5" cy="532.5" r="4.7"/>
<circle cx="462.5" cy="516" r="4.7"/>
<circle cx="462.9" cy="527.5" r="4.7"/>
<circle cx="463.4" cy="541.4" r="4.7"/>
<circle cx="464.1" cy="522.8" r="4.7"/>
<circle cx="464.3" cy="532.8" r="4.7"/>
<circle cx="466" cy="529.8" r="4.7"/>
<circle cx="466.2" cy="530.6" r="4.7"/>
<circle cx="466.7" cy="522.1" r="4.7"/>
<circle cx="467" cy="537.9" r="4.7"/>
</g>
<path d="M61.25 610 L62.5 603.75 L64.25 596 L66.25 587.5 L68.75 575 L71.25 563.75 L73.75 553.75 L76.25 543.75 L78.75 535 L81.25 526.25 L83.75 518.75 L87 510 L90 502.5 L93.4 495 L96.5 488.5 L99.6 482.5 L104 476.5 L108.6 471.8 L113 467.8 L117.5 464.6 L122 462.4 L126.4 461 L130 460.1 L133.6 459.6 L139 459.8 L144.3 460.7 L150 462 L153.2 462.9 L159 466.5 L167.9 470.2 L176 475 L185.7 480.9 L194 485.5 L203.6 490.7 L212 494.5 L221.4 497.9 L230 500.7 L240 503.4 L250 505.6 L257.9 506.8 L266 507.6 L275.7 508 L290 508.2 L305 508 L318 508.2 L330 508.8 L340 509.8 L347.9 510.9 L356 512.7 L365.7 515.2 L374 517.3 L383.6 519.8 L392 522.4 L401.4 525.4 L409 528 L417.9 530.5 L426.8 532.2 L435.7 532.9 L444.6 531.8 L450 530.2 L453.6 528.7 L457 526.7 L460.7 523.6 L464 520.8 L467.5 517.6" fill="none" stroke="#c0152a" stroke-width="2.1" stroke-dasharray="2 2.87" stroke-linejoin="round"/>
<line class="ax" x1="61.1" y1="399.9" x2="61.1" y2="633.0999999999999"/>
<line class="ax" x1="60.3" y1="632.3" x2="549.25" y2="632.3"/>
<line class="dash" x1="63.5" y1="457.4" x2="215" y2="457.4"/>
<line class="dash" x1="63.5" y1="610.6" x2="202.5" y2="610.6"/>
<line class="dash" x1="135.6" y1="381" x2="135.6" y2="612.5"/>
<line x1="74" y1="394.5" x2="128" y2="394.5" stroke="#111" stroke-width="1.5"/>
<path d="M66.2 394.5 L76.2 390 L76.2 399 Z M136.4 394.5 L126.4 390 L126.4 399 Z" fill="#000"/>
<line x1="163.8" y1="465" x2="163.8" y2="598" stroke="#666" stroke-width="1.5"/>
<path d="M163.8 457 L159.2 467 L168.4 467 Z M163.8 606.4 L159.2 596.6 L168.4 596.6 Z" fill="#000"/>
<text x="91.67" y="384.50" textLength="25.19" lengthAdjust="spacingAndGlyphs">9%</text>
<text x="174.67" y="560.50" textLength="62.07" lengthAdjust="spacingAndGlyphs">2.0 MPa</text>
<text x="52.6" y="638.00" text-anchor="end">0</text>
<text x="52.6" y="599.35" text-anchor="end">0.5</text>
<text x="52.6" y="560.70" text-anchor="end">1</text>
<text x="52.6" y="522.05" text-anchor="end">1.5</text>
<text x="52.6" y="483.40" text-anchor="end">2</text>
<text x="52.6" y="444.75" text-anchor="end">2.5</text>
<text x="52.6" y="406.10" text-anchor="end">3</text>
<text x="61.25" y="654.3" text-anchor="middle">0</text>
<text x="142.50" y="654.3" text-anchor="middle">0.1</text>
<text x="223.75" y="654.3" text-anchor="middle">0.2</text>
<text x="305.00" y="654.3" text-anchor="middle">0.3</text>
<text x="386.25" y="654.3" text-anchor="middle">0.4</text>
<text x="467.50" y="654.3" text-anchor="middle">0.5</text>
<text x="548.75" y="654.3" text-anchor="middle">0.6</text>
<text x="219.26" y="678.10" textLength="86.76" lengthAdjust="spacingAndGlyphs">Engineering</text>
<text x="309.85" y="678.10" textLength="44.12" lengthAdjust="spacingAndGlyphs">strain,</text>
<text x="358.50" y="678.10" textLength="8.99" lengthAdjust="spacingAndGlyphs" style="font-size:15px" class="ser">ε</text>
<text x="367.48" y="683.40" textLength="15.49" lengthAdjust="spacingAndGlyphs" style="font-size:11px">zz</text>
<g transform="translate(17.9,551.9) rotate(-90)">
<text x="-0.73" y="0.00" textLength="50.38" lengthAdjust="spacingAndGlyphs">Stress,</text>
<text x="54.39" y="0.00" textLength="33.27" lengthAdjust="spacingAndGlyphs">Mpa</text>
</g>
<text x="229.77" y="370.00" textLength="44.66" lengthAdjust="spacingAndGlyphs">Resist</text>
<text x="279.96" y="370.00" textLength="62.71" lengthAdjust="spacingAndGlyphs">strength,</text>
<text x="348.31" y="370.00" textLength="9.66" lengthAdjust="spacingAndGlyphs" style="font-size:14.5px" font-style="italic" class="ser">σ</text>
<text x="359.28" y="374.70" textLength="13.08" lengthAdjust="spacingAndGlyphs" style="font-size:11px">zz</text>
<text class="lbl" x="-0.6" y="363.5">b</text>
</g>
</svg></body></html>
